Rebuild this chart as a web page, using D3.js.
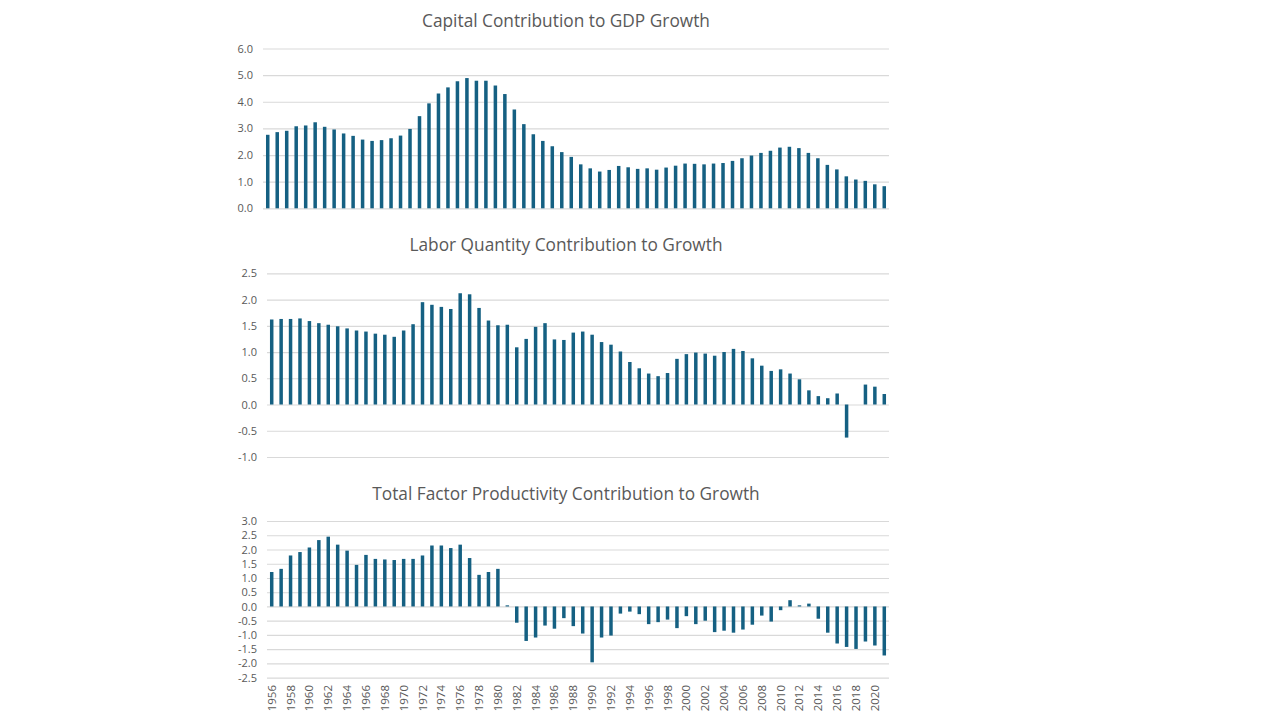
<!DOCTYPE html>
<html>
<head>
<meta charset="utf-8">
<script src="https://cdn.jsdelivr.net/npm/d3@7"></script>
<style>
  body { margin: 0; background: #ffffff; }
  text { font-family: "Open Sans", "Liberation Sans", sans-serif; fill: #595959; }
  .title { font-size: 17.3px; }
  .tick text { font-size: 11px; }
</style>
</head>
<body>
<div id="chart"></div>
<script>
const years = [1956, 1957, 1958, 1959, 1960, 1961, 1962, 1963, 1964, 1965,
    1966, 1967, 1968, 1969, 1970, 1971, 1972, 1973, 1974, 1975,
    1976, 1977, 1978, 1979, 1980, 1981, 1982, 1983, 1984, 1985,
    1986, 1987, 1988, 1989, 1990, 1991, 1992, 1993, 1994, 1995,
    1996, 1997, 1998, 1999, 2000, 2001, 2002, 2003, 2004, 2005,
    2006, 2007, 2008, 2009, 2010, 2011, 2012, 2013, 2014, 2015,
    2016, 2017, 2018, 2019, 2020, 2021];

const yearLabels = [1956, 1958, 1960, 1962, 1964, 1966, 1968, 1970, 1972, 1974,
    1976, 1978, 1980, 1982, 1984, 1986, 1988, 1990, 1992, 1994,
    1996, 1998, 2000, 2002, 2004, 2006, 2008, 2010, 2012, 2014,
    2016, 2018, 2020];

const capital = [2.76, 2.86, 2.91, 3.08, 3.11, 3.23, 3.06, 2.96, 2.81, 2.72,
    2.58, 2.53, 2.56, 2.63, 2.73, 2.98, 3.46, 3.94, 4.31, 4.54,
    4.77, 4.89, 4.79, 4.79, 4.61, 4.29, 3.71, 3.16, 2.78, 2.53,
    2.33, 2.11, 1.93, 1.65, 1.50, 1.38, 1.44, 1.59, 1.54, 1.48,
    1.50, 1.45, 1.53, 1.60, 1.68, 1.67, 1.65, 1.68, 1.70, 1.78,
    1.88, 1.98, 2.08, 2.16, 2.28, 2.31, 2.26, 2.08, 1.88, 1.63,
    1.46, 1.20, 1.08, 1.03, 0.90, 0.83];

const labor = [1.62, 1.63, 1.63, 1.64, 1.59, 1.55, 1.52, 1.49, 1.45, 1.41,
    1.39, 1.35, 1.33, 1.29, 1.41, 1.53, 1.95, 1.90, 1.86, 1.82,
    2.12, 2.10, 1.84, 1.60, 1.51, 1.52, 1.09, 1.25, 1.48, 1.55,
    1.24, 1.23, 1.37, 1.39, 1.33, 1.19, 1.14, 1.01, 0.81, 0.69,
    0.59, 0.54, 0.60, 0.87, 0.96, 0.99, 0.97, 0.93, 1.00, 1.06,
    1.02, 0.88, 0.74, 0.64, 0.67, 0.59, 0.48, 0.27, 0.16, 0.12,
    0.21, -0.63, 0.00, 0.38, 0.34, 0.20];

const tfp = [1.21, 1.32, 1.79, 1.91, 2.07, 2.33, 2.45, 2.17, 1.96, 1.46,
    1.81, 1.67, 1.65, 1.63, 1.67, 1.67, 1.79, 2.14, 2.14, 2.05,
    2.17, 1.70, 1.11, 1.21, 1.32, 0.04, -0.57, -1.21, -1.09, -0.67,
    -0.78, -0.41, -0.69, -0.95, -1.96, -1.09, -1.02, -0.25, -0.18, -0.27,
    -0.62, -0.55, -0.46, -0.76, -0.34, -0.62, -0.50, -0.90, -0.85, -0.92,
    -0.81, -0.64, -0.32, -0.53, -0.13, 0.22, 0.04, 0.10, -0.43, -0.92,
    -1.30, -1.42, -1.49, -1.23, -1.37, -1.72];

const capitalTicks = [0, 1, 2, 3, 4, 5, 6];
const laborTicks = [-1, -0.5, 0, 0.5, 1, 1.5, 2, 2.5];
const tfpTicks = [-2.5, -2, -1.5, -1, -0.5, 0, 0.5, 1, 1.5, 2, 2.5, 3];

const svgWidth = 1280;
const svgHeight = 720;
const barColor = "#156082";
const gridColor = "#d9d9d9";
const titleCenter = 566;

const svg = d3.select("#chart")
    .append("svg")
    .attr("width", svgWidth)
    .attr("height", svgHeight);

function drawPanel(opts) {
    const x = d3.scaleBand()
        .domain(years)
        .range([opts.left, opts.right])
        .paddingInner(0.63)
        .paddingOuter(0.315);

    const y = d3.scaleLinear()
        .domain([opts.ticks[0], opts.ticks[opts.ticks.length - 1]])
        .range([opts.bottom, opts.top]);

    const g = svg.append("g");

    g.append("text")
        .attr("class", "title")
        .attr("x", titleCenter)
        .attr("y", opts.titleY)
        .attr("text-anchor", "middle")
        .text(opts.title);

    // gridlines + tick labels from the axis
    const yAxis = g.append("g")
        .attr("transform", `translate(${opts.left}, 0)`)
        .call(d3.axisLeft(y)
            .tickValues(opts.ticks)
            .tickSize(-(opts.right - opts.left))
            .tickPadding(10)
            .tickFormat(d => d.toFixed(1)));
    yAxis.select(".domain").remove();
    yAxis.selectAll(".tick line")
        .attr("stroke", gridColor)
        .attr("stroke-width", 1.2);

    g.append("g")
        .selectAll("rect")
        .data(opts.values)
        .enter()
        .append("rect")
        .attr("x", (d, i) => x(years[i]))
        .attr("width", x.bandwidth())
        .attr("y", d => y(Math.max(0, d)))
        .attr("height", d => Math.abs(y(d) - y(0)))
        .attr("fill", barColor);

    return x;
}

drawPanel({
    title: "Capital Contribution to GDP Growth",
    titleY: 27,
    values: capital,
    ticks: capitalTicks,
    left: 263, right: 889, top: 48.5, bottom: 208.3
});

drawPanel({
    title: "Labor Quantity Contribution to Growth",
    titleY: 251,
    values: labor,
    ticks: laborTicks,
    left: 267, right: 889, top: 273.3, bottom: 457
});

const xBottom = drawPanel({
    title: "Total Factor Productivity Contribution to Growth",
    titleY: 500,
    values: tfp,
    ticks: tfpTicks,
    left: 267, right: 889, top: 521, bottom: 677.7
});

// rotated year labels under the last panel
svg.append("g")
    .selectAll("text")
    .data(yearLabels)
    .enter()
    .append("text")
    .attr("class", "year")
    .attr("font-size", 11.5)
    .attr("text-anchor", "end")
    .attr("transform", d => `translate(${xBottom(d) + xBottom.bandwidth() / 2 + 4}, 685) rotate(-90)`)
    .text(d => d);
</script>
</body>
</html>
